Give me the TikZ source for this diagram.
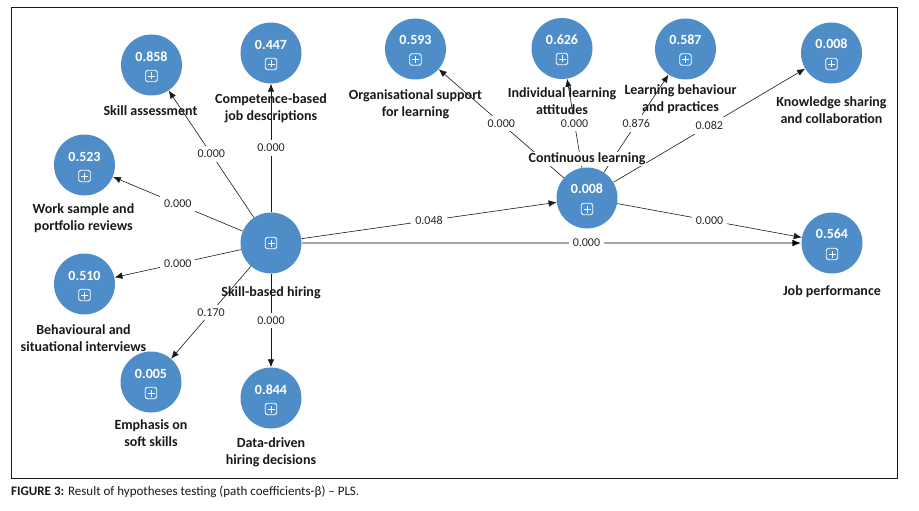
\documentclass[tikz,border=0pt]{standalone}
\usepackage{fontspec}
\setmainfont{Carlito}
\usetikzlibrary{positioning,arrows.meta}
\definecolor{lvblue}{RGB}{79,141,201}

\begin{document}
\begin{tikzpicture}[x=1pt,y=-1pt,>={Latex[length=8pt,width=6.5pt]},
    lv/.style={circle,fill=lvblue,minimum size=61pt,inner sep=0pt},
    val/.style={text=white,font=\bfseries\fontsize{14}{16}\selectfont,inner sep=0pt},
    plusbox/.style={draw=white,line width=0.9pt,rounded corners=1.8pt,minimum size=11.5pt,inner sep=0pt,
        path picture={\draw[white,line width=0.9pt,sharp corners]
            ([xshift=-3.5pt]path picture bounding box.center) -- ([xshift=3.5pt]path picture bounding box.center)
            ([yshift=-3.5pt]path picture bounding box.center) -- ([yshift=3.5pt]path picture bounding box.center);}},
    lbl/.style={align=center,font=\bfseries\fontsize{14}{16.8}\selectfont,text=black!90,inner sep=1pt},
    pc/.style={->,draw=black!90,line width=0.6pt},
    coef/.style={fill=white,inner sep=4pt,font=\fontsize{12}{14}\selectfont,text=black!85}]

    \useasboundingbox (0,0) rectangle (919,511);

    % frame
    \draw[line width=1pt,black!90] (11,8) rectangle (897,478);

    % skill-based hiring and its indicators
    \node[lv] (sbh) at (271,243) {};
    \node[plusbox] (sbh-p) at (sbh.center) {};

    \node[lv] (sa) at (151.5,65) {};
    \node[val] (sa-v) at ([yshift=8pt]sa.center) {0.858};
    \node[plusbox] (sa-p) at ([yshift=-11pt]sa.center) {};

    \node[lv] (cbjd) at (271,53) {};
    \node[val] (cbjd-v) at ([yshift=8pt]cbjd.center) {0.447};
    \node[plusbox] (cbjd-p) at ([yshift=-11pt]cbjd.center) {};

    \node[lv] (wspr) at (84.5,165) {};
    \node[val] (wspr-v) at ([yshift=8pt]wspr.center) {0.523};
    \node[plusbox] (wspr-p) at ([yshift=-11pt]wspr.center) {};

    \node[lv] (bsi) at (84.5,284) {};
    \node[val] (bsi-v) at ([yshift=8pt]bsi.center) {0.510};
    \node[plusbox] (bsi-p) at ([yshift=-11pt]bsi.center) {};

    \node[lv] (eoss) at (151,382) {};
    \node[val] (eoss-v) at ([yshift=8pt]eoss.center) {0.005};
    \node[plusbox] (eoss-p) at ([yshift=-11pt]eoss.center) {};

    \node[lv] (ddhd) at (271,398) {};
    \node[val] (ddhd-v) at ([yshift=8pt]ddhd.center) {0.844};
    \node[plusbox] (ddhd-p) at ([yshift=-11pt]ddhd.center) {};

    % continuous learning and its indicators
    \node[lv] (cl) at (587,198) {};
    \node[val] (cl-v) at ([yshift=9pt]cl.center) {0.008};
    \node[plusbox] (cl-p) at ([yshift=-11pt]cl.center) {};

    \node[lv] (osl) at (415.5,49) {};
    \node[val] (osl-v) at ([yshift=9pt]osl.center) {0.593};
    \node[plusbox] (osl-p) at ([yshift=-10.5pt]osl.center) {};

    \node[lv] (ila) at (562,48.5) {};
    \node[val] (ila-v) at ([yshift=9pt]ila.center) {0.626};
    \node[plusbox] (ila-p) at ([yshift=-10.5pt]ila.center) {};

    \node[lv] (lbp) at (685.5,49) {};
    \node[val] (lbp-v) at ([yshift=9pt]lbp.center) {0.587};
    \node[plusbox] (lbp-p) at ([yshift=-10.5pt]lbp.center) {};

    \node[lv] (ksc) at (831.5,53) {};
    \node[val] (ksc-v) at ([yshift=9pt]ksc.center) {0.008};
    \node[plusbox] (ksc-p) at ([yshift=-11pt]ksc.center) {};

    % outcome
    \node[lv] (jp) at (832,243) {};
    \node[val] (jp-v) at ([yshift=9pt]jp.center) {0.564};
    \node[plusbox] (jp-p) at ([yshift=-11pt]jp.center) {};

    % path coefficients
    \draw[pc] (sbh) -- node[coef] (c-sa) {0.000} (sa);
    \draw[pc] (sbh) -- node[coef] (c-cbjd) {0.000} (cbjd);
    \draw[pc] (sbh) -- node[coef] (c-wspr) {0.000} (wspr);
    \draw[pc] (sbh) -- node[coef] (c-bsi) {0.000} (bsi);
    \draw[pc] (sbh) -- node[coef] (c-eoss) {0.170} (eoss);
    \draw[pc] (sbh) -- node[coef] (c-ddhd) {0.000} (ddhd);
    \draw[pc] (sbh) -- node[coef] (c-cl) {0.048} (cl);
    \draw[->,draw=black!35,line width=1.6pt,>={Latex[length=9pt,width=7pt,color=black]}]
        (sbh) -- node[coef,pos=0.57] (c-jp) {0.000} (jp);
    \draw[pc] (cl) -- node[coef] (c-osl) {0.000} (osl);
    \draw[pc] (cl) -- node[coef] (c-ila) {0.000} (ila);
    \draw[pc] (cl) -- node[coef] (c-lbp) {0.876} (lbp);
    \draw[pc] (cl) -- node[coef] (c-ksc) {0.082} (ksc);
    \draw[pc] (cl) -- node[coef] (c-cljp) {0.000} (jp);

    % construct names
    \node[lbl,below=9pt of sa,xshift=-1pt] (sa-l) {Skill assessment};
    \node[lbl,below=9pt of cbjd] (cbjd-l) {Competence-based\\job descriptions};
    \node[lbl,below=7pt of wspr,xshift=-1pt] (wspr-l) {Work sample and\\portfolio reviews};
    \node[lbl,below=9pt of bsi,xshift=-1pt] (bsi-l) {Behavioural and\\situational interviews};
    \node[lbl,below=6pt of eoss] (eoss-l) {Emphasis on\\soft skills};
    \node[lbl,below=8pt of ddhd] (ddhd-l) {Data-driven\\hiring decisions};
    \node[lbl,below=12pt of sbh] (sbh-l) {Skill-based hiring};
    \node[lbl,fill=white,above=1pt of cl] (cl-l) {Continuous learning};
    \node[lbl,below=9pt of osl] (osl-l) {Organisational support\\for learning};
    \node[lbl,below=7pt of ila] (ila-l) {Individual learning\\attitudes};
    \node[lbl,below=4pt of lbp,xshift=-5pt] (lbp-l) {Learning behaviour\\and practices};
    \node[lbl,below=12pt of ksc] (ksc-l) {Knowledge sharing\\and collaboration};
    \node[lbl,below=11pt of jp] (jp-l) {Job performance};

    % caption
    \node[anchor=west,inner sep=0pt,font=\fontsize{13}{15}\selectfont,text=black!90] (cap) at (11,492)
        {\textbf{FIGURE 3:} Result of hypotheses testing (path coefficients-β) – PLS.};
\end{tikzpicture}
\end{document}
